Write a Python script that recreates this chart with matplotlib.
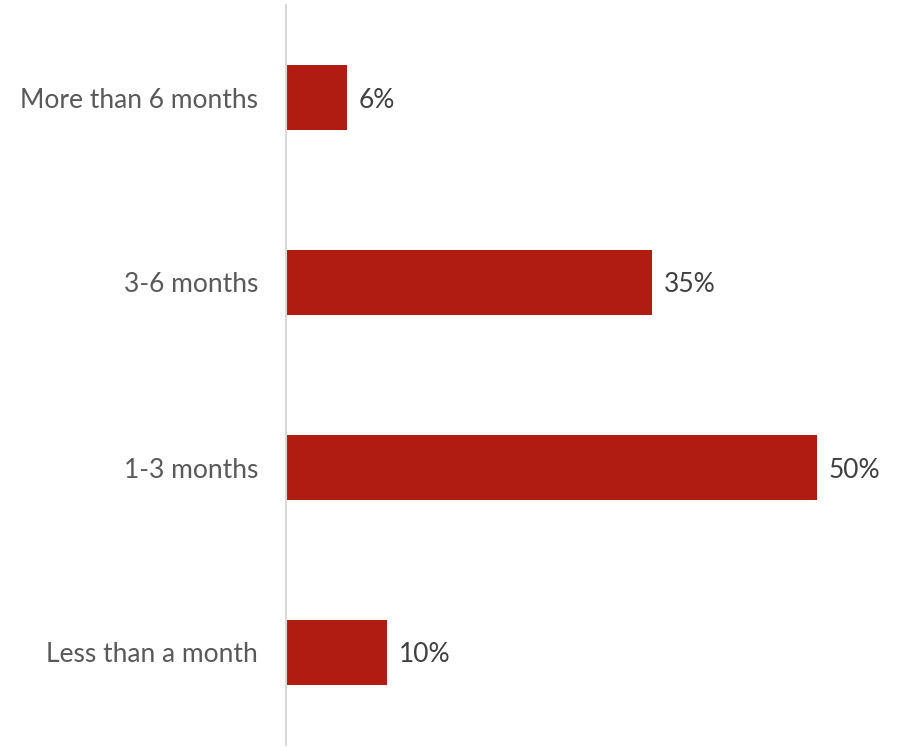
import matplotlib.pyplot as plt

categories = ["Less than a month", "1-3 months", "3-6 months", "More than 6 months"]
values = [9.5, 50.0, 34.5, 5.7]
value_labels = ["10%", "50%", "35%", "6%"]

plt.rcParams['font.family'] = ['Lato', 'DejaVu Sans']

fig = plt.figure(figsize=(9.23, 7.47), dpi=100)
ax = fig.add_axes([286 / 923, 2 / 747, (900 - 286) / 923, 740 / 747])

pos = list(range(len(categories)))
ax.barh(pos, values, height=0.35, color='#B01C12')

for p, v, lab in zip(pos, values, value_labels):
    ax.text(v + 1.1, p, lab, va='center_baseline', ha='left', fontsize=19, color='#404040')

ax.set_xlim(0, 57.8)
ax.set_ylim(-0.5, 3.5)
ax.set_yticks(pos)
ax.set_yticklabels(categories, fontsize=19, color='#595959')
ax.tick_params(axis='y', length=0, pad=20)
ax.set_xticks([])

for s in ['top', 'right', 'bottom']:
    ax.spines[s].set_visible(False)
ax.spines['left'].set_color('#D9D9D9')
ax.spines['left'].set_linewidth(1.5)

fig.savefig('out.png', dpi=100)
